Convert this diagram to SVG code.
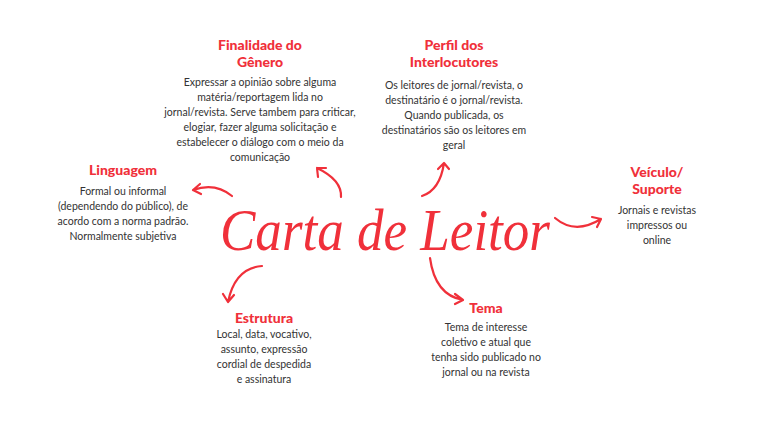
<svg xmlns="http://www.w3.org/2000/svg" width="768" height="431" viewBox="0 0 768 431">
<style>
.h{font-family:"Lato","Liberation Sans",sans-serif;font-weight:900;fill:#f0303a;font-size:14px;text-anchor:middle}
.t{font-family:"Lato","Noto Sans",sans-serif;fill:#333;font-size:10.5px;text-anchor:middle}
.c{fill:none;stroke:#f0303a;stroke-width:2.2;stroke-linecap:round;stroke-linejoin:round}
</style>
<rect width="768" height="431" fill="#fff"/>
<g id="title"><text x="385" y="250" font-family="Liberation Serif,serif" font-style="italic" font-size="60" fill="#f0303a" text-anchor="middle" textLength="330" lengthAdjust="spacingAndGlyphs">Carta de Leitor</text></g>
<g id="finalidade"><text class="h" x="260" y="50">Finalidade do</text><text class="h" x="260" y="67">Gênero</text>
<text class="t" x="260" y="86">Expressar a opinião sobre alguma</text><text class="t" x="260" y="101">matéria/reportagem lida no</text><text class="t" x="260" y="116">jornal/revista. Serve tambem para criticar,</text><text class="t" x="260" y="131">elogiar, fazer alguma solicitação e</text><text class="t" x="260" y="146">estabelecer o diálogo com o meio da</text><text class="t" x="260" y="161">comunicação</text></g>
<g id="perfil"><text class="h" x="454" y="50">Perfil dos</text><text class="h" x="454" y="67">Interlocutores</text>
<text class="t" x="454" y="89">Os leitores de jornal/revista, o</text><text class="t" x="454" y="104">destinatário é o jornal/revista.</text><text class="t" x="454" y="119">Quando publicada, os</text><text class="t" x="454" y="134">destinatários são os leitores em</text><text class="t" x="454" y="149">geral</text></g>
<g id="linguagem"><text class="h" x="123" y="175">Linguagem</text>
<text class="t" x="123" y="195">Formal ou informal</text><text class="t" x="123" y="210">(dependendo do público), de</text><text class="t" x="123" y="225">acordo com a norma padrão.</text><text class="t" x="123" y="240">Normalmente subjetiva</text></g>
<g id="veiculo"><text class="h" x="657" y="177">Veículo/</text><text class="h" x="657" y="194">Suporte</text>
<text class="t" x="657" y="214">Jornais e revistas</text><text class="t" x="657" y="229">impressos ou</text><text class="t" x="657" y="244">online</text></g>
<g id="estrutura"><text class="h" x="264" y="323">Estrutura</text>
<text class="t" x="264" y="338">Local, data, vocativo,</text><text class="t" x="264" y="353">assunto, expressão</text><text class="t" x="264" y="368">cordial de despedida</text><text class="t" x="264" y="383">e assinatura</text></g>
<g id="tema"><text class="h" x="486" y="313">Tema</text>
<text class="t" x="486" y="331">Tema de interesse</text><text class="t" x="486" y="346">coletivo e atual que</text><text class="t" x="486" y="361">tenha sido publicado no</text><text class="t" x="486" y="376">jornal ou na revista</text></g>
<g id="connectors">
<path class="c" d="M232 196 Q215 182 193 190 M200 184 L193 190 L201 194"/>
<path class="c" d="M341 197 Q342 180 317 168 M318 177 L317 168 L326 168"/>
<path class="c" d="M422 196 Q440 190 444 163 M438 169 L444 163 L449 169"/>
<path class="c" d="M555 218 Q575 235 601 219 M592 217 L601 219 L597 227"/>
<path class="c" d="M262 266 Q235 268 228 302 M223 294 L228 302 L234 295"/>
<path class="c" d="M430 258 Q435 295 463 300 M455 294 L463 300 L455 304"/>
</g>
</svg>
